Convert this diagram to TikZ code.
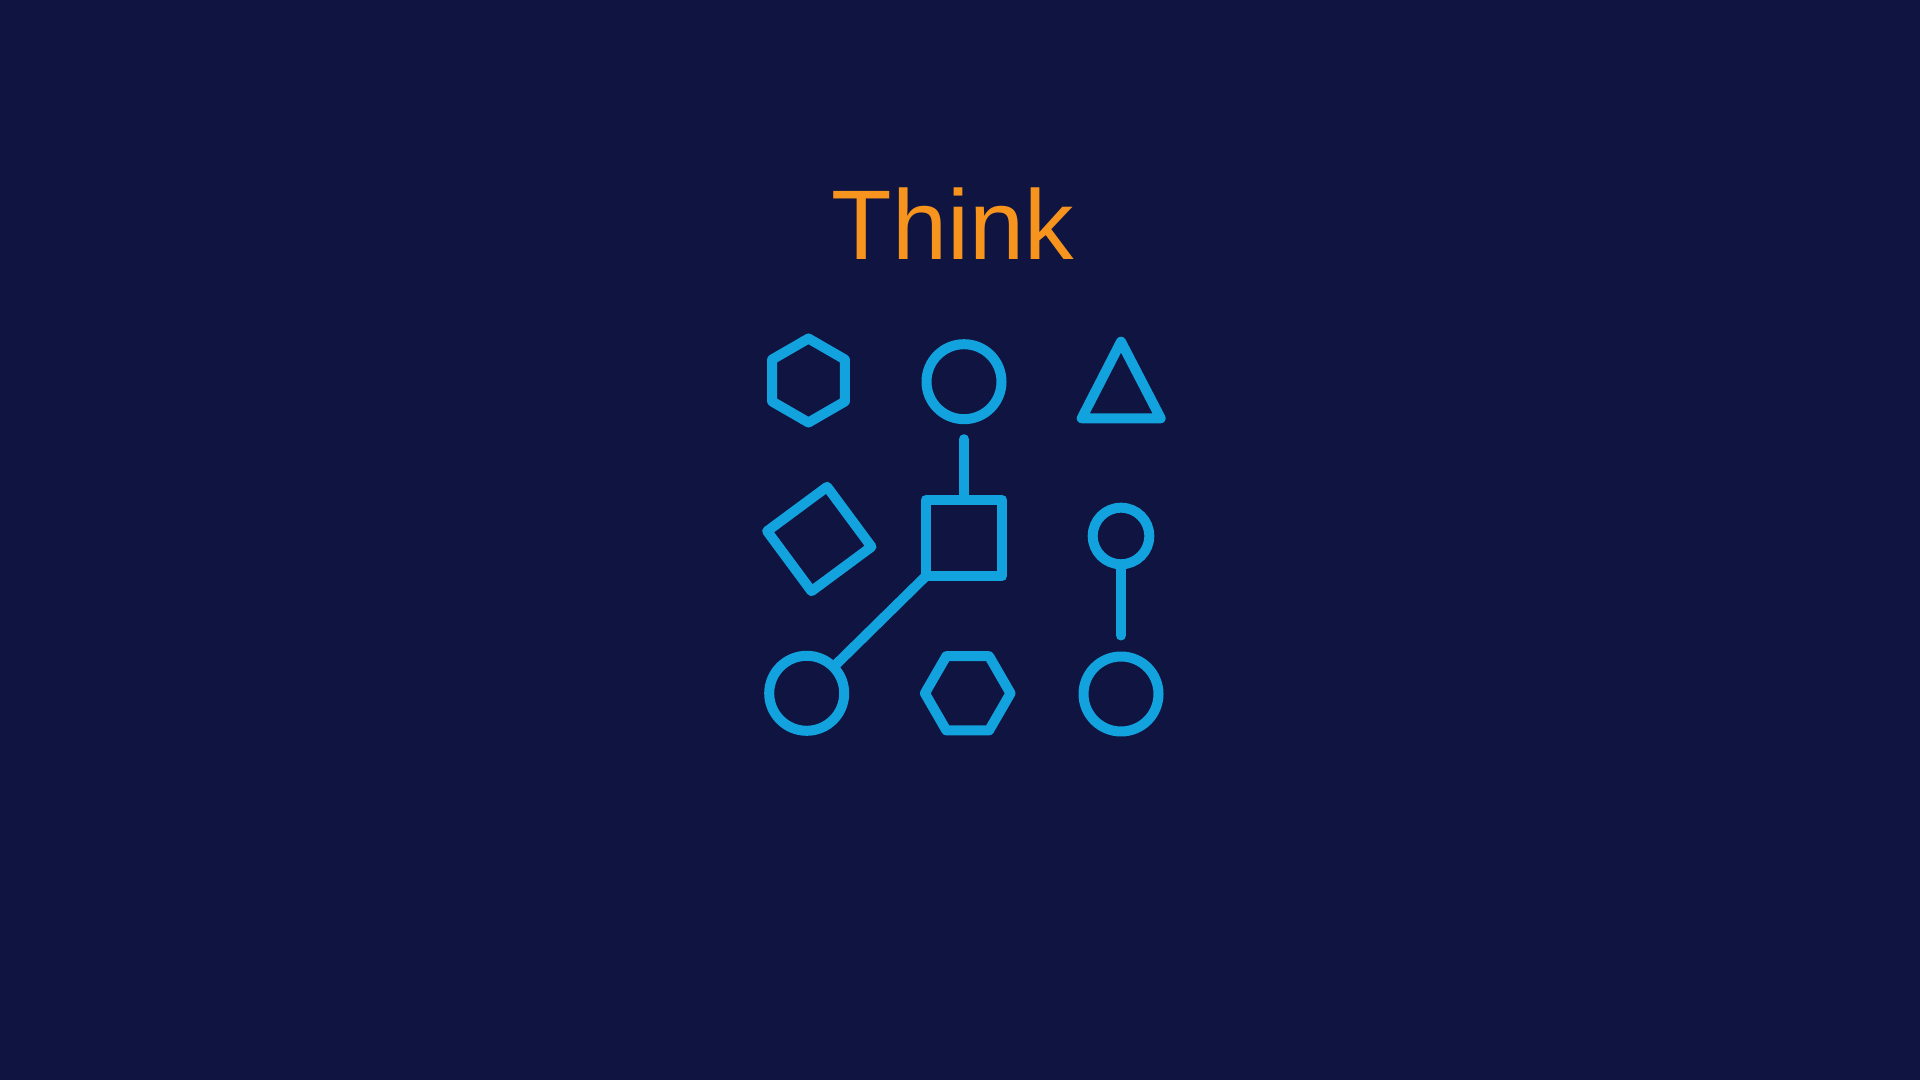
\documentclass[tikz,border=0pt]{standalone}
\usepackage{fontspec}
\setmainfont{Liberation Sans}
\usetikzlibrary{shapes.geometric}
\definecolor{bgnavy}{HTML}{0F1441}
\definecolor{iconblue}{HTML}{12A3DF}
\definecolor{titleorange}{HTML}{F7941D}
\tikzset{
  icon/.style={draw=iconblue, line width=10pt, line join=round, line cap=round, inner sep=0pt, outer sep=0pt},
  ring/.style={icon, circle},
  hexa/.style={icon, regular polygon, regular polygon sides=6},
  boxy/.style={icon, rectangle},
  link/.style={draw=iconblue, line width=10pt, line cap=round}
}
\begin{document}
\begin{tikzpicture}[x=1pt,y=1pt]
\fill[bgnavy] (0,0) rectangle (1920,1080);
\useasboundingbox (0,0) rectangle (1920,1080);
\node[text=titleorange, anchor=base, inner sep=0pt, font=\fontsize{99}{110}\selectfont] (title) at (953,820) {Think};
% row 1
\node[hexa, minimum size=84pt, shape border rotate=30] (hexA) at (808.5,699.5) {};
\node[ring, minimum size=75pt] (ringA) at (964,698.3) {};
\draw[icon] (1121,738.3) -- (1081.7,661.7) -- (1160.7,661.7) -- cycle;
% row 2
\node[boxy, minimum size=74.6pt, rotate=36.5] (tilted) at (819.3,541) {};
\node[boxy, minimum size=76.5pt] (square) at (964,542) {};
\node[ring, minimum size=56.6pt] (ringS) at (1121,544) {};
% row 3
\node[ring, minimum size=75pt] (ringB) at (806.7,386.7) {};
\node[hexa, minimum size=85.6pt] (hexB) at (967.7,386.7) {};
\node[ring, minimum size=75pt] (ringC) at (1121,386) {};
% connectors
\draw[link, shorten <=20pt] (ringA.south) -- (square.north);
\draw[link] (square.south west) -- (ringB);
\draw[link, shorten >=21pt] (ringS.south) -- (ringC.north);
\end{tikzpicture}
\end{document}
